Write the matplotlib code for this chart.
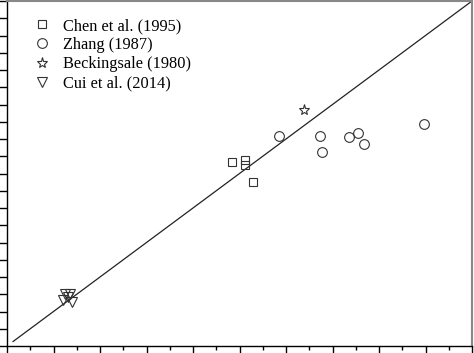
import matplotlib
matplotlib.use("Agg")
import matplotlib.pyplot as plt
import numpy as np

plt.rcParams['font.family'] = ['Liberation Serif', 'DejaVu Serif']

chen_x = [4.84, 5.12, 5.12, 5.29]
chen_y = [10.64, 10.76, 10.47, 9.53]
zhang_x = [5.85, 6.73, 6.77, 7.35, 7.55, 7.68, 8.97]
zhang_y = [12.15, 12.15, 11.22, 12.09, 12.33, 11.69, 12.85]
beck_x = [6.39]
beck_y = [13.66]
cui_x = [1.25, 1.35, 1.20, 1.40, 1.31]
cui_y = [3.02, 3.02, 2.67, 2.56, 2.85]
line_x = [0.13, 10.0]
line_y = [0.26, 20.0]

fig = plt.figure(figsize=(4.74, 3.53), dpi=100)
ax = fig.add_axes([7/474, 7/353, 465/474, 345/353])

ec = '#333333'
ax.plot(line_x, line_y, color='#222222', lw=0.9)
ax.plot(chen_x, chen_y, 's', ms=6.3, mfc='none', mec=ec, mew=0.8, label='Chen et al. (1995)')
ax.plot(zhang_x, zhang_y, 'o', ms=7, mfc='none', mec=ec, mew=0.8, label='Zhang (1987)')
ax.plot(beck_x, beck_y, '*', ms=8, mfc='none', mec=ec, mew=0.8, label='Beckingsale (1980)')
ax.plot(cui_x, cui_y, 'v', ms=7.5, mfc='none', mec=ec, mew=0.8, label='Cui et al. (2014)')

ax.set_xlim(0, 10)
ax.set_ylim(0, 20)
ax.set_xticks(np.arange(0, 10.01, 1))
ax.set_xticks(np.arange(0.5, 10, 1), minor=True)
ax.set_yticks(np.arange(0, 20.01, 1))
ax.tick_params(axis='x', which='major', direction='out', length=6, width=1, labelbottom=False)
ax.tick_params(axis='x', which='minor', direction='out', length=3, width=1)
ax.tick_params(axis='y', which='major', direction='out', length=6, width=1, labelleft=False)
for s in ['top', 'right']:
    ax.spines[s].set_color('#888888')
    ax.spines[s].set_linewidth(1.5)
for s in ['left', 'bottom']:
    ax.spines[s].set_color('black')
    ax.spines[s].set_linewidth(1.0)

ax.legend(loc='upper left', bbox_to_anchor=(0.043, 0.97), frameon=False,
          fontsize=11.8, handlelength=1.0, handletextpad=0.8, labelspacing=0.2,
          borderaxespad=0)

fig.savefig('out.png', dpi=100)
